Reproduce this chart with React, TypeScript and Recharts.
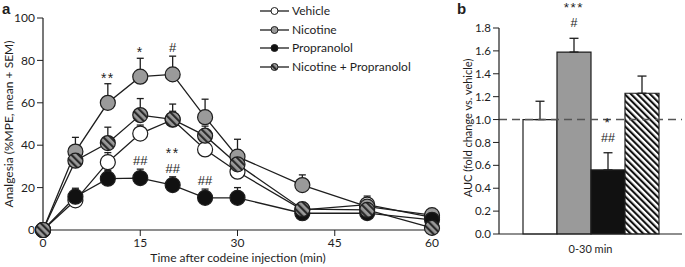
import React from 'react';
import {
  LineChart,
  Line,
  XAxis,
  YAxis,
  ErrorBar,
  LabelList,
  BarChart,
  Bar,
  ReferenceLine,
} from 'recharts';

const FONT = 'Lato, "Open Sans", "DejaVu Sans", sans-serif';
const SIGFONT = '"Liberation Sans", Arial, sans-serif';
const INK = '#1e1e1e';
const GRAY = '#9a9a9a';

// ---------- Panel a data ----------
const times = [0, 5, 10, 15, 20, 25, 30, 40, 50, 60];
const timeTicks = [0, 15, 30, 45, 60];
const analgesiaTicks = [0, 20, 40, 60, 80, 100];

const vehicleMean = [0, 14, 32, 45.5, 52, 38, 27.5, 9.5, 12, 6];
const vehicleSem = [0, 3, 4.5, 4, 4, 3, 4, 2, 4, 1.5];
const vehicleSig = ['', '', '', '', '', '', '', '', '', ''];

const nicotineMean = [0, 37, 60, 72.3, 73.4, 53.2, 34.6, 21.2, 11, 7];
const nicotineSem = [0, 6.7, 9, 8.7, 8.6, 8.5, 8.2, 4.8, 3, 1.5];
const nicotineSig = ['', '', '**', '*', '#', '', '', '', '', ''];

const propranololMean = [0, 15.7, 24.2, 24.5, 21.2, 15.2, 15.2, 7.9, 8, 4.8];
const propranololSem = [0, 4, 3.8, 4.2, 3.9, 4.1, 4.8, 1.5, 1.5, 1];
const propranololSig = ['', '', '', '##', '**\n##', '##', '', '', '', ''];

const nicPropMean = [0, 32.7, 41, 54.2, 52.2, 44.5, 31, 9.8, 9.5, 1];
const nicPropSem = [0, 4, 7.5, 7.8, 7.2, 4.5, 4, 1.5, 2, 1];
const nicPropSig = ['', '', '', '', '', '', '', '', '', ''];

const seriesA = [
  { key: 'veh', name: 'Vehicle', mean: vehicleMean, sem: vehicleSem, sig: vehicleSig, fill: '#ffffff' },
  { key: 'nic', name: 'Nicotine', mean: nicotineMean, sem: nicotineSem, sig: nicotineSig, fill: GRAY },
  { key: 'pro', name: 'Propranolol', mean: propranololMean, sem: propranololSem, sig: propranololSig, fill: '#111111' },
  { key: 'np', name: 'Nicotine + Propranolol', mean: nicPropMean, sem: nicPropSem, sig: nicPropSig, fill: 'url(#stripeCircle)' },
];

const lineData = times.map((t, i) => {
  const row: Record<string, any> = { t };
  seriesA.forEach((s) => {
    row[s.key] = s.mean[i];
    row[s.key + 'Err'] = [0, s.sem[i]];
    row[s.key + 'Top'] = s.mean[i] + s.sem[i];
    row[s.key + 'Sig'] = s.sig[i];
  });
  return row;
});

// ---------- Panel b data ----------
const aucCategory = ['0-30 min'];
const aucTicks = [0, 0.2, 0.4, 0.6, 0.8, 1.0, 1.2, 1.4, 1.6, 1.8];
const aucMean = [1.0, 1.59, 0.56, 1.23];
const aucSem = [0.16, 0.12, 0.15, 0.15];
const aucSig = ['', '***\n#', '*\n##', ''];
const aucFills = ['#ffffff', GRAY, '#111111', 'url(#stripeBar)'];

const barData = aucCategory.map((c) => {
  const row: Record<string, any> = { cat: c };
  aucMean.forEach((m, i) => {
    row['g' + i] = m;
    row['e' + i] = [0, aucSem[i]];
  });
  return row;
});

const renderSigLines = (cx: number, baseY: number, value: string, fontSize: number, lineH: number) => {
  const lines = value.split('\n');
  return lines.map((l, i) => {
    const star = l.includes('*');
    return (
      <text
        key={i}
        x={cx}
        y={baseY - (lines.length - 1 - i) * lineH + (star && lines.length === 1 ? 3 : 0)}
        textAnchor="middle"
        fontSize={star ? fontSize + 1 : fontSize}
        letterSpacing={star ? 1.5 : 0}
        fontFamily={SIGFONT}
        fill={INK}
      >
        {l}
      </text>
    );
  });
};

const makeSigLabel = (fontSize: number, lineH: number, gap: number) => (props: any) => {
  const { x, y, value } = props;
  if (!value) return null;
  return <g>{renderSigLines(x, y - gap, String(value), fontSize, lineH)}</g>;
};

const makeBarSigLabel = (i: number) => (props: any) => {
  const { x, y, width, height } = props;
  const sig = aucSig[i];
  if (!sig) return null;
  const pxPerUnit = height / aucMean[i];
  const errTop = y - aucSem[i] * pxPerUnit;
  return <g>{renderSigLines(x + width / 2, errTop - 11, sig, 12.5, 15)}</g>;
};

const tickStyle = { fontSize: 12, fontFamily: FONT, fill: INK };

export default function App() {
  return (
    <div style={{ position: 'absolute', left: 0, top: 0, width: 685, height: 267, background: '#fff' }}>
      <svg width={0} height={0} style={{ position: 'absolute' }}>
        <defs>
          <pattern id="stripeCircle" patternUnits="userSpaceOnUse" width={5} height={5} patternTransform="rotate(-45)">
            <rect width={5} height={5} fill={GRAY} />
            <rect width={2.2} height={5} fill="#2a2a2a" />
          </pattern>
          <pattern id="stripeBar" patternUnits="userSpaceOnUse" width={4.5} height={4.5} patternTransform="rotate(-45)">
            <rect width={4.5} height={4.5} fill="#ffffff" />
            <rect width={2.1} height={4.5} fill="#111111" />
          </pattern>
        </defs>
      </svg>

      {/* Panel a */}
      <div style={{ position: 'absolute', left: 0, top: 0 }}>
        <LineChart width={450} height={267} data={lineData} margin={{ top: 18, right: 18, left: 0, bottom: 0 }}>
          <XAxis
            dataKey="t"
            type="number"
            domain={[0, 60]}
            ticks={timeTicks}
            height={37}
            tick={tickStyle}
            stroke={INK}
            tickLine={{ stroke: INK }}
            axisLine={{ stroke: INK, strokeWidth: 1.2 }}
          />
          <YAxis
            type="number"
            domain={[0, 100]}
            ticks={analgesiaTicks}
            width={43}
            tick={tickStyle}
            stroke={INK}
            tickLine={{ stroke: INK }}
            axisLine={{ stroke: INK, strokeWidth: 1.2 }}
          />
          {seriesA.map((s) => (
            <Line
              key={s.key}
              dataKey={s.key}
              name={s.name}
              stroke={INK}
              strokeWidth={1.3}
              isAnimationActive={false}
              activeDot={false}
              dot={{ r: 7.5, fill: s.fill, stroke: INK, strokeWidth: 1.2 }}
            >
              <ErrorBar dataKey={s.key + 'Err'} width={3.5} stroke={INK} strokeWidth={1.3} direction="y" />
            </Line>
          ))}
          {seriesA.map((s) => (
            <Line
              key={s.key + 'top'}
              dataKey={s.key + 'Top'}
              stroke="none"
              dot={false}
              activeDot={false}
              legendType="none"
              isAnimationActive={false}
            >
              <LabelList dataKey={s.key + 'Sig'} content={makeSigLabel(13, 15, 4)} />
            </Line>
          ))}
        </LineChart>
      </div>

      {/* Panel b */}
      <div style={{ position: 'absolute', left: 440, top: 0 }}>
        <BarChart
          width={245}
          height={267}
          data={barData}
          margin={{ top: 28, right: 3, left: 0, bottom: 0 }}
          barGap={0}
          barCategoryGap={24}
        >
          <XAxis
            dataKey="cat"
            height={33}
            tick={{ fontSize: 11, fontFamily: FONT, fill: INK }}
            tickLine={false}
            tickMargin={5}
            axisLine={{ stroke: INK, strokeWidth: 1.2 }}
          />
          <YAxis
            type="number"
            domain={[0, 1.8]}
            ticks={aucTicks}
            width={59}
            tickFormatter={(v: number) => v.toFixed(1)}
            tick={{ fontSize: 11.5, fontFamily: FONT, fill: INK }}
            tickLine={{ stroke: INK }}
            axisLine={{ stroke: INK, strokeWidth: 1.2 }}
          />
          {aucMean.map((_, i) => (
            <Bar
              key={i}
              dataKey={'g' + i}
              fill={aucFills[i]}
              stroke={INK}
              strokeWidth={1.2}
              isAnimationActive={false}
            >
              <ErrorBar dataKey={'e' + i} width={4.5} stroke={INK} strokeWidth={1.3} direction="y" />
              <LabelList dataKey={'g' + i} content={makeBarSigLabel(i)} />
            </Bar>
          ))}
          <ReferenceLine y={1} stroke="#555" strokeWidth={1.5} strokeDasharray="8 5" />
        </BarChart>
      </div>

      {/* Legend for panel a */}
      <div
        style={{
          position: 'absolute',
          left: 260,
          top: 2,
          fontFamily: FONT,
          fontSize: 12,
          color: INK,
          lineHeight: '18.5px',
        }}
      >
        {seriesA.map((s) => (
          <div key={s.key} style={{ display: 'flex', alignItems: 'center', height: 18.5 }}>
            <svg width={31} height={10} style={{ display: 'block' }}>
              <line x1={0} x2={29} y1={5} y2={5} stroke={INK} strokeWidth={1.3} />
              <circle cx={14.5} cy={5} r={3.5} fill={s.fill} stroke={INK} strokeWidth={1} />
            </svg>
            <span style={{ marginLeft: 1, whiteSpace: 'nowrap' }}>{s.name}</span>
          </div>
        ))}
      </div>

      {/* Titles and panel letters */}
      <svg width={685} height={267} style={{ position: 'absolute', left: 0, top: 0, pointerEvents: 'none' }}>
        <text x={2} y={14} fontFamily='"Liberation Sans", Arial, sans-serif' fontWeight="bold" fontSize={15} fill={INK}>
          a
        </text>
        <text x={457} y={14} fontFamily='"Liberation Sans", Arial, sans-serif' fontWeight="bold" fontSize={15} fill={INK}>
          b
        </text>
        <text
          x={8}
          y={124}
          transform="rotate(-90 8 124)"
          textAnchor="middle"
          dominantBaseline="central"
          fontFamily={FONT}
          fontSize={12}
          fill={INK}
        >
          Analgesia (%MPE, mean + SEM)
        </text>
        <text x={238} y={262} textAnchor="middle" fontFamily={FONT} fontSize={12} fill={INK}>
          Time after codeine injection (min)
        </text>
        <text
          x={467}
          y={128}
          transform="rotate(-90 467 128)"
          textAnchor="middle"
          dominantBaseline="central"
          fontFamily={FONT}
          fontSize={11}
          fill={INK}
        >
          AUC (fold change vs. vehicle)
        </text>
      </svg>
    </div>
  );
}
